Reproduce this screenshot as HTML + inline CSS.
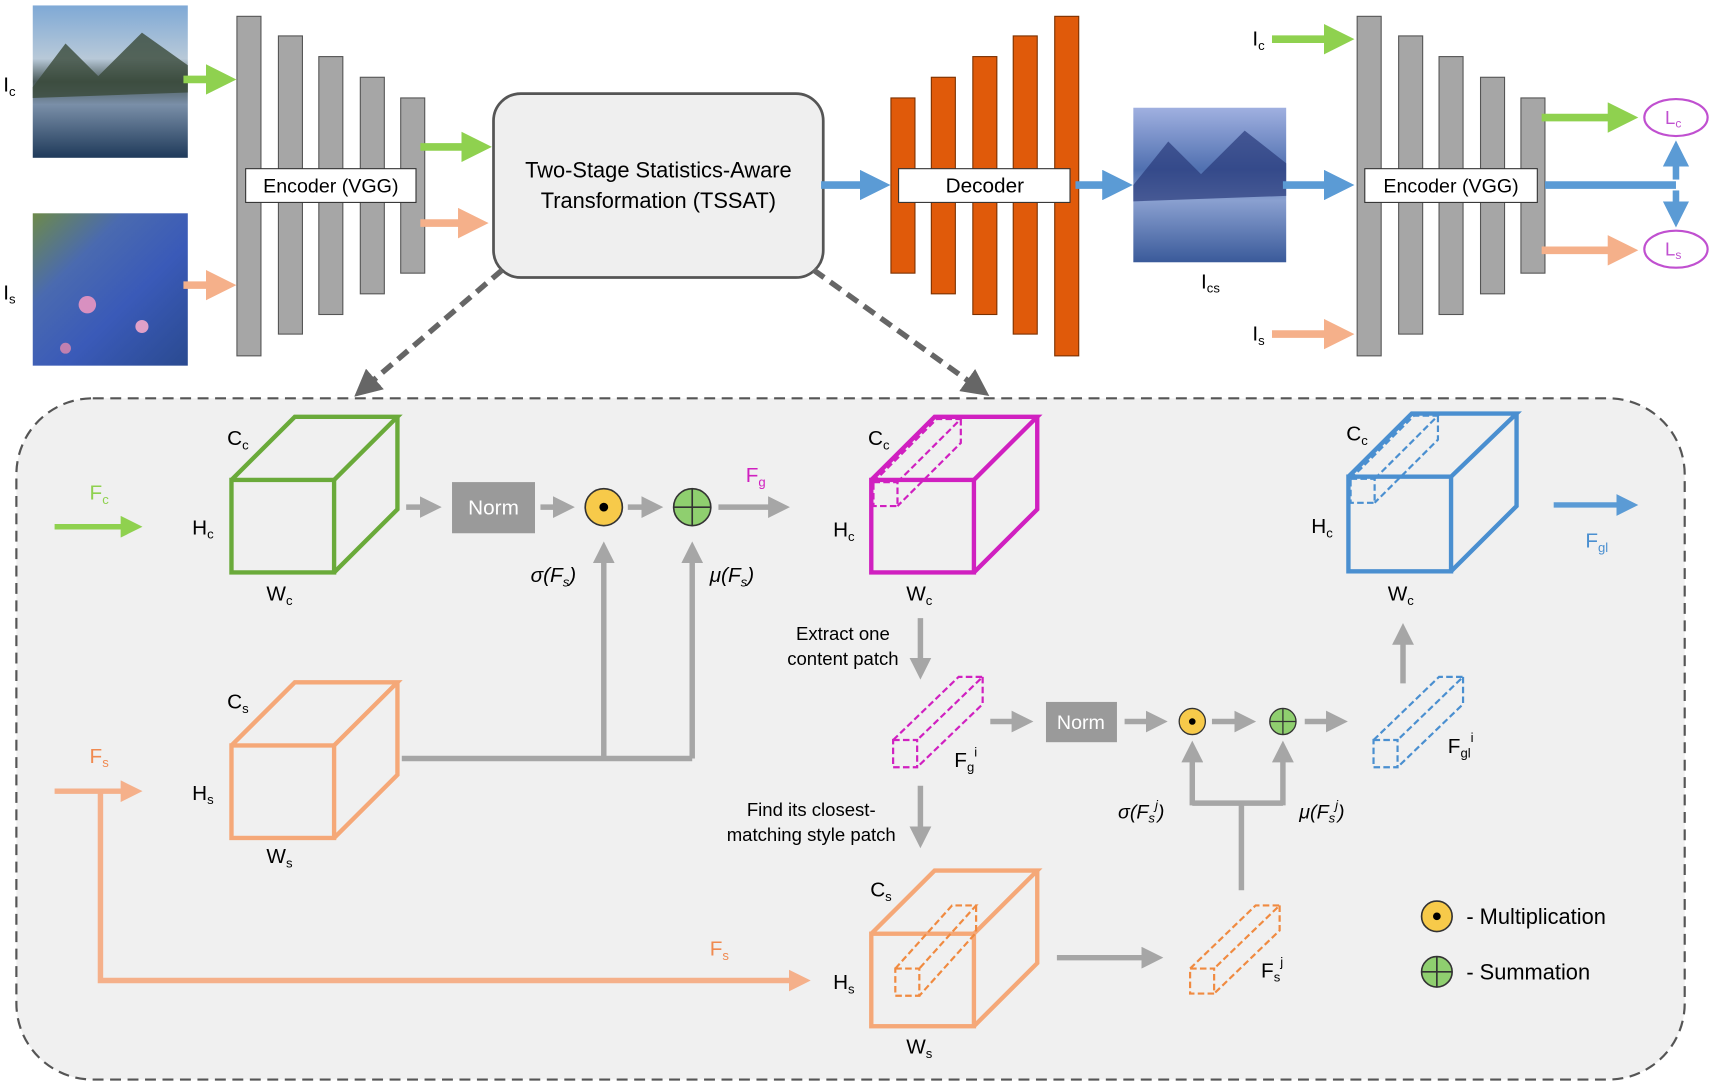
<!DOCTYPE html>
<html><head><meta charset="utf-8"><style>
html,body{margin:0;padding:0;background:#fff}
svg{display:block}
text{font-family:"Liberation Sans",sans-serif}
</style></head><body>
<svg width="1712" height="1085" viewBox="0 0 1568 997" preserveAspectRatio="none" xmlns="http://www.w3.org/2000/svg">
<defs>
<marker id="ag" markerWidth="4" markerHeight="4" refX="2.5" refY="2" orient="auto" markerUnits="strokeWidth"><path d="M0,0 L4,2 L0,4 Z" fill="#8fd14f"/></marker>
<marker id="ao" markerWidth="4" markerHeight="4" refX="2.5" refY="2" orient="auto" markerUnits="strokeWidth"><path d="M0,0 L4,2 L0,4 Z" fill="#f5b08a"/></marker>
<marker id="ab" markerWidth="4" markerHeight="4" refX="2.5" refY="2" orient="auto" markerUnits="strokeWidth"><path d="M0,0 L4,2 L0,4 Z" fill="#5b9bd5"/></marker>
<marker id="ay" markerWidth="4" markerHeight="4" refX="2.5" refY="2" orient="auto" markerUnits="strokeWidth"><path d="M0,0 L4,2 L0,4 Z" fill="#a6a6a6"/></marker>
<marker id="ad" markerWidth="5" markerHeight="5" refX="3" refY="2.5" orient="auto" markerUnits="strokeWidth"><path d="M0,0 L5,2.5 L0,5 Z" fill="#666"/></marker>
<linearGradient id="p1" x1="0" y1="0" x2="0" y2="1"><stop offset="0" stop-color="#7fa9d6"/><stop offset="0.35" stop-color="#b8c9d8"/><stop offset="0.5" stop-color="#4a5a5a"/><stop offset="0.65" stop-color="#7a8fa8"/><stop offset="1" stop-color="#1f3a5a"/></linearGradient>
<linearGradient id="p2" x1="0" y1="0" x2="1" y2="1"><stop offset="0" stop-color="#6d8a4a"/><stop offset="0.3" stop-color="#4a6ab0"/><stop offset="0.6" stop-color="#3a5ab8"/><stop offset="1" stop-color="#2a4a90"/></linearGradient>
<linearGradient id="p3" x1="0" y1="0" x2="0" y2="1"><stop offset="0" stop-color="#a0b0e0"/><stop offset="0.4" stop-color="#5070b0"/><stop offset="0.6" stop-color="#8aa0d0"/><stop offset="1" stop-color="#3a5a9a"/></linearGradient>
</defs>

<!-- top photos -->
<rect x="30" y="5" width="142" height="140" fill="url(#p1)"/>
<path d="M30,80 L60,40 L90,70 L130,30 L172,60 L172,85 L30,90Z" fill="#3a4a3a" opacity="0.8"/>
<rect x="30" y="196" width="142" height="140" fill="url(#p2)"/>
<circle cx="80" cy="280" r="8" fill="#d890c0"/><circle cx="130" cy="300" r="6" fill="#e0a0c8"/><circle cx="60" cy="320" r="5" fill="#c080b0"/>
<text x="3" y="84" font-size="19">I<tspan font-size="12" dy="4">c</tspan></text>
<text x="3" y="275" font-size="19">I<tspan font-size="12" dy="4">s</tspan></text>
<line x1="168" y1="73" x2="206" y2="73" stroke="#8fd14f" stroke-width="7" marker-end="url(#ag)"/>
<line x1="168" y1="262" x2="206" y2="262" stroke="#f5b08a" stroke-width="7" marker-end="url(#ao)"/>

<!-- encoder 1 -->
<g fill="#a6a6a6" stroke="#555" stroke-width="1">
<rect x="217" y="15" width="22" height="312"/><rect x="255" y="33" width="22" height="274"/><rect x="292" y="52" width="22" height="237"/><rect x="330" y="71" width="22" height="199"/><rect x="367" y="90" width="22" height="161"/>
</g>
<rect x="225" y="155" width="156" height="31" fill="#fff" stroke="#333"/>
<text x="303" y="177" font-size="18" text-anchor="middle">Encoder (VGG)</text>
<line x1="385" y1="135" x2="440" y2="135" stroke="#8fd14f" stroke-width="7" marker-end="url(#ag)"/>
<line x1="385" y1="205" x2="437" y2="205" stroke="#f5b08a" stroke-width="7" marker-end="url(#ao)"/>

<!-- TSSAT -->
<rect x="452" y="86" width="302" height="169" rx="25" fill="#efefef" stroke="#555" stroke-width="2.5"/>
<text x="603" y="163" font-size="20" text-anchor="middle">Two-Stage Statistics-Aware</text>
<text x="603" y="191" font-size="20" text-anchor="middle">Transformation (TSSAT)</text>
<line x1="752" y1="170" x2="805" y2="170" stroke="#5b9bd5" stroke-width="7" marker-end="url(#ab)"/>

<!-- decoder -->
<g fill="#e05a0a" stroke="#7a3000" stroke-width="1">
<rect x="816" y="90" width="22" height="161"/><rect x="853" y="71" width="22" height="199"/><rect x="891" y="52" width="22" height="237"/><rect x="928" y="33" width="22" height="274"/><rect x="966" y="15" width="22" height="312"/>
</g>
<rect x="823" y="155" width="157" height="31" fill="#fff" stroke="#333"/>
<text x="902" y="177" font-size="19" text-anchor="middle">Decoder</text>
<line x1="985" y1="170" x2="1027" y2="170" stroke="#5b9bd5" stroke-width="7" marker-end="url(#ab)"/>
<rect x="1038" y="99" width="140" height="142" fill="url(#p3)"/>
<path d="M1038,170 L1070,130 L1100,160 L1140,120 L1178,150 L1178,180 L1038,185Z" fill="#2a3a7a" opacity="0.7"/>
<text x="1100" y="265" font-size="19">I<tspan font-size="12" dy="4">cs</tspan></text>

<!-- encoder 2 -->
<line x1="1175" y1="170" x2="1230" y2="170" stroke="#5b9bd5" stroke-width="7" marker-end="url(#ab)"/>
<line x1="1165" y1="36" x2="1230" y2="36" stroke="#8fd14f" stroke-width="7" marker-end="url(#ag)"/>
<line x1="1165" y1="307" x2="1230" y2="307" stroke="#f5b08a" stroke-width="7" marker-end="url(#ao)"/>
<text x="1147" y="42" font-size="19">I<tspan font-size="12" dy="4">c</tspan></text>
<text x="1147" y="313" font-size="19">I<tspan font-size="12" dy="4">s</tspan></text>
<g fill="#a6a6a6" stroke="#555" stroke-width="1">
<rect x="1243" y="15" width="22" height="312"/><rect x="1281" y="33" width="22" height="274"/><rect x="1318" y="52" width="22" height="237"/><rect x="1356" y="71" width="22" height="199"/><rect x="1393" y="90" width="22" height="161"/>
</g>
<rect x="1250" y="155" width="158" height="31" fill="#fff" stroke="#333"/>
<text x="1329" y="177" font-size="18" text-anchor="middle">Encoder (VGG)</text>
<line x1="1412" y1="108" x2="1490" y2="108" stroke="#8fd14f" stroke-width="7" marker-end="url(#ag)"/>
<line x1="1412" y1="230" x2="1490" y2="230" stroke="#f5b08a" stroke-width="7" marker-end="url(#ao)"/>
<line x1="1415" y1="170" x2="1535" y2="170" stroke="#5b9bd5" stroke-width="7"/>
<line x1="1535" y1="165" x2="1535" y2="138" stroke="#5b9bd5" stroke-width="6" marker-end="url(#ab)"/>
<line x1="1535" y1="175" x2="1535" y2="200" stroke="#5b9bd5" stroke-width="6" marker-end="url(#ab)"/>
<ellipse cx="1535" cy="108" rx="29" ry="17" fill="#fff" stroke="#c050d0" stroke-width="2"/>
<ellipse cx="1535" cy="229" rx="29" ry="17" fill="#fff" stroke="#c050d0" stroke-width="2"/>
<text x="1525" y="114" font-size="17" fill="#c050d0">L<tspan font-size="11" dy="3">c</tspan></text>
<text x="1525" y="235" font-size="17" fill="#c050d0">L<tspan font-size="11" dy="3">s</tspan></text>

<!-- dashed connectors -->
<line x1="460" y1="248" x2="332" y2="358" stroke="#666" stroke-width="5" stroke-dasharray="12,7" marker-end="url(#ad)"/>
<line x1="745" y1="248" x2="898" y2="358" stroke="#666" stroke-width="5" stroke-dasharray="12,7" marker-end="url(#ad)"/>

<!-- panel -->
<rect x="15" y="366" width="1528" height="626" rx="70" fill="#f0f0f0" stroke="#555" stroke-width="2" stroke-dasharray="10,6"/>

<!-- green cube -->
<g fill="none" stroke="#6aaa3a" stroke-width="4">
<rect x="212" y="441" width="94" height="85"/><path d="M212,441 L270,383 L364,383 L306,441 M364,383 L364,468 L306,526"/>
</g>
<text x="208" y="409" font-size="19">C<tspan font-size="12" dy="4">c</tspan></text>
<text x="176" y="491" font-size="19">H<tspan font-size="12" dy="4">c</tspan></text>
<text x="244" y="552" font-size="19">W<tspan font-size="12" dy="4">c</tspan></text>
<text x="82" y="459" font-size="19" fill="#8fd14f">F<tspan font-size="12" dy="4">c</tspan></text>
<line x1="50" y1="484" x2="123" y2="484" stroke="#8fd14f" stroke-width="5" marker-end="url(#ag)"/>

<g stroke="#a6a6a6" stroke-width="5">
<line x1="372" y1="466" x2="397" y2="466" marker-end="url(#ay)"/>
<line x1="495" y1="466" x2="519" y2="466" marker-end="url(#ay)"/>
<line x1="575" y1="466" x2="600" y2="466" marker-end="url(#ay)"/>
<line x1="658" y1="466" x2="716" y2="466" marker-end="url(#ay)"/>
<polyline points="368,697 634,697" fill="none"/>
<line x1="553" y1="697" x2="553" y2="505" marker-end="url(#ay)"/>
<line x1="634" y1="697" x2="634" y2="505" marker-end="url(#ay)"/>
</g>
<rect x="414" y="443" width="76" height="47" fill="#9a9a9a"/>
<text x="452" y="473" font-size="19" fill="#fff" text-anchor="middle">Norm</text>
<circle cx="553" cy="466" r="17" fill="#f7ca4a" stroke="#333" stroke-width="1.5"/><circle cx="553" cy="466" r="4" fill="#000"/>
<circle cx="634" cy="466" r="17" fill="#8fcf6f" stroke="#333" stroke-width="1.5"/><path d="M617,466 H651 M634,449 V483" stroke="#333" stroke-width="1.5"/>
<text x="683" y="443" font-size="19" fill="#d020c0">F<tspan font-size="12" dy="4">g</tspan></text>
<text x="486" y="535" font-size="19" font-style="italic">σ(F<tspan font-size="12" dy="4">s</tspan><tspan dy="-4">)</tspan></text>
<text x="650" y="535" font-size="19" font-style="italic">μ(F<tspan font-size="12" dy="4">s</tspan><tspan dy="-4">)</tspan></text>

<!-- orange cube -->
<g fill="none" stroke="#f5a878" stroke-width="4">
<rect x="212" y="685" width="94" height="85"/><path d="M212,685 L270,627 L364,627 L306,685 M364,627 L364,712 L306,770"/>
</g>
<text x="208" y="651" font-size="19">C<tspan font-size="12" dy="4">s</tspan></text>
<text x="176" y="735" font-size="19">H<tspan font-size="12" dy="4">s</tspan></text>
<text x="244" y="793" font-size="19">W<tspan font-size="12" dy="4">s</tspan></text>
<text x="82" y="701" font-size="19" fill="#f08a50">F<tspan font-size="12" dy="4">s</tspan></text>
<line x1="50" y1="727" x2="123" y2="727" stroke="#f5b08a" stroke-width="5" marker-end="url(#ao)"/>
<polyline points="92,727 92,901 735,901" fill="none" stroke="#f5b08a" stroke-width="5" marker-end="url(#ao)"/>
<text x="650" y="878" font-size="19" fill="#f08a50">F<tspan font-size="12" dy="4">s</tspan></text>

<!-- magenta cube -->
<g fill="none" stroke="#d020c0" stroke-width="4">
<rect x="798" y="441" width="94" height="85"/><path d="M798,441 L856,383 L950,383 L892,441 M950,383 L950,468 L892,526"/>
</g>
<g fill="none" stroke="#d020c0" stroke-width="2" stroke-dasharray="6,3"><rect x="800" y="443" width="22" height="22"/><path d="M800,443 L858,385 L880,385 L822,443 M880,385 L880,407 L822,465"/></g>
<text x="795" y="409" font-size="19">C<tspan font-size="12" dy="4">c</tspan></text>
<text x="763" y="493" font-size="19">H<tspan font-size="12" dy="4">c</tspan></text>
<text x="830" y="552" font-size="19">W<tspan font-size="12" dy="4">c</tspan></text>

<!-- blue cube -->
<g fill="none" stroke="#4a8fd0" stroke-width="4">
<rect x="1235" y="438" width="94" height="87"/><path d="M1235,438 L1293,380 L1389,380 L1329,438 M1389,380 L1389,465 L1329,525"/>
</g>
<g fill="none" stroke="#4a8fd0" stroke-width="2" stroke-dasharray="6,3"><rect x="1237" y="440" width="22" height="22"/><path d="M1237,440 L1295,382 L1317,382 L1259,440 M1317,382 L1317,404 L1259,462"/></g>
<text x="1233" y="405" font-size="19">C<tspan font-size="12" dy="4">c</tspan></text>
<text x="1201" y="490" font-size="19">H<tspan font-size="12" dy="4">c</tspan></text>
<text x="1271" y="552" font-size="19">W<tspan font-size="12" dy="4">c</tspan></text>
<line x1="1423" y1="464" x2="1493" y2="464" stroke="#5b9bd5" stroke-width="5" marker-end="url(#ab)"/>
<text x="1452" y="503" font-size="19" fill="#4a8fd0">F<tspan font-size="12" dy="4">gl</tspan></text>

<!-- lower middle -->
<g stroke="#a6a6a6" stroke-width="5">
<line x1="843" y1="568" x2="843" y2="617" marker-end="url(#ay)"/>
<line x1="843" y1="722" x2="843" y2="772" marker-end="url(#ay)"/>
<line x1="907" y1="663" x2="939" y2="663" marker-end="url(#ay)"/>
<line x1="1030" y1="663" x2="1062" y2="663" marker-end="url(#ay)"/>
<line x1="1110" y1="663" x2="1143" y2="663" marker-end="url(#ay)"/>
<line x1="1195" y1="663" x2="1227" y2="663" marker-end="url(#ay)"/>
<line x1="1285" y1="628" x2="1285" y2="580" marker-end="url(#ay)"/>
<line x1="968" y1="880" x2="1058" y2="880" marker-end="url(#ay)"/>
<polyline points="1137,818 1137,738" fill="none"/>
<polyline points="1092,738 1175,738" fill="none"/>
<line x1="1092" y1="740" x2="1092" y2="688" marker-end="url(#ay)"/>
<line x1="1175" y1="740" x2="1175" y2="688" marker-end="url(#ay)"/>
</g>
<text x="772" y="588" font-size="17" text-anchor="middle">Extract one</text>
<text x="772" y="611" font-size="17" text-anchor="middle">content patch</text>
<text x="743" y="750" font-size="17" text-anchor="middle">Find its closest-</text>
<text x="743" y="773" font-size="17" text-anchor="middle">matching style patch</text>

<g fill="none" stroke="#d020c0" stroke-width="2" stroke-dasharray="6,3"><rect x="818" y="680" width="22" height="25"/><path d="M818,680 L878,622 L900,622 L840,680 M900,622 L900,647 L840,705"/></g>
<text x="874" y="705" font-size="19">F<tspan font-size="12" dy="4">g</tspan><tspan font-size="12" dy="-14">i</tspan></text>
<rect x="958" y="645" width="65" height="37" fill="#9a9a9a"/>
<text x="990" y="670" font-size="18" fill="#fff" text-anchor="middle">Norm</text>
<circle cx="1092" cy="663" r="12" fill="#f7ca4a" stroke="#333" stroke-width="1.2"/><circle cx="1092" cy="663" r="3" fill="#000"/>
<circle cx="1175" cy="663" r="12" fill="#8fcf6f" stroke="#333" stroke-width="1.2"/><path d="M1163,663 H1187 M1175,651 V675" stroke="#333" stroke-width="1.2"/>
<g fill="none" stroke="#4a8fd0" stroke-width="2" stroke-dasharray="6,3"><rect x="1258" y="680" width="22" height="25"/><path d="M1258,680 L1318,622 L1340,622 L1280,680 M1340,622 L1340,647 L1280,705"/></g>
<text x="1326" y="692" font-size="19">F<tspan font-size="12" dy="4">gl</tspan><tspan font-size="12" dy="-14">i</tspan></text>
<text x="1024" y="752" font-size="18" font-style="italic">σ(F<tspan font-size="12" dy="4">s</tspan><tspan font-size="12" dy="-12">j</tspan><tspan dy="8">)</tspan></text>
<text x="1190" y="752" font-size="18" font-style="italic">μ(F<tspan font-size="12" dy="4">s</tspan><tspan font-size="12" dy="-12">j</tspan><tspan dy="8">)</tspan></text>

<!-- orange cube 2 -->
<g fill="none" stroke="#f5a878" stroke-width="4">
<rect x="798" y="858" width="94" height="85"/><path d="M798,858 L856,800 L950,800 L892,858 M950,800 L950,885 L892,943"/>
</g>
<g fill="none" stroke="#f08a40" stroke-width="2" stroke-dasharray="6,3"><rect x="820" y="890" width="22" height="25"/><path d="M820,890 L872,832 L894,832 L842,890 M894,832 L894,857 L842,915"/></g>
<text x="797" y="824" font-size="19">C<tspan font-size="12" dy="4">s</tspan></text>
<text x="763" y="909" font-size="19">H<tspan font-size="12" dy="4">s</tspan></text>
<text x="830" y="968" font-size="19">W<tspan font-size="12" dy="4">s</tspan></text>
<g fill="none" stroke="#f08a40" stroke-width="2" stroke-dasharray="6,3"><rect x="1090" y="890" width="22" height="23"/><path d="M1090,890 L1150,832 L1172,832 L1112,890 M1172,832 L1172,855 L1112,913"/></g>
<text x="1155" y="898" font-size="19">F<tspan font-size="12" dy="4">s</tspan><tspan font-size="12" dy="-14">j</tspan></text>

<!-- legend -->
<circle cx="1316" cy="842" r="14" fill="#f7ca4a" stroke="#333" stroke-width="1.5"/><circle cx="1316" cy="842" r="3.5" fill="#000"/>
<text x="1343" y="849" font-size="20">- Multiplication</text>
<circle cx="1316" cy="893" r="14" fill="#8fcf6f" stroke="#333" stroke-width="1.5"/><path d="M1302,893 H1330 M1316,879 V907" stroke="#333" stroke-width="1.5"/>
<text x="1343" y="900" font-size="20">- Summation</text>
</svg>
</body></html>
